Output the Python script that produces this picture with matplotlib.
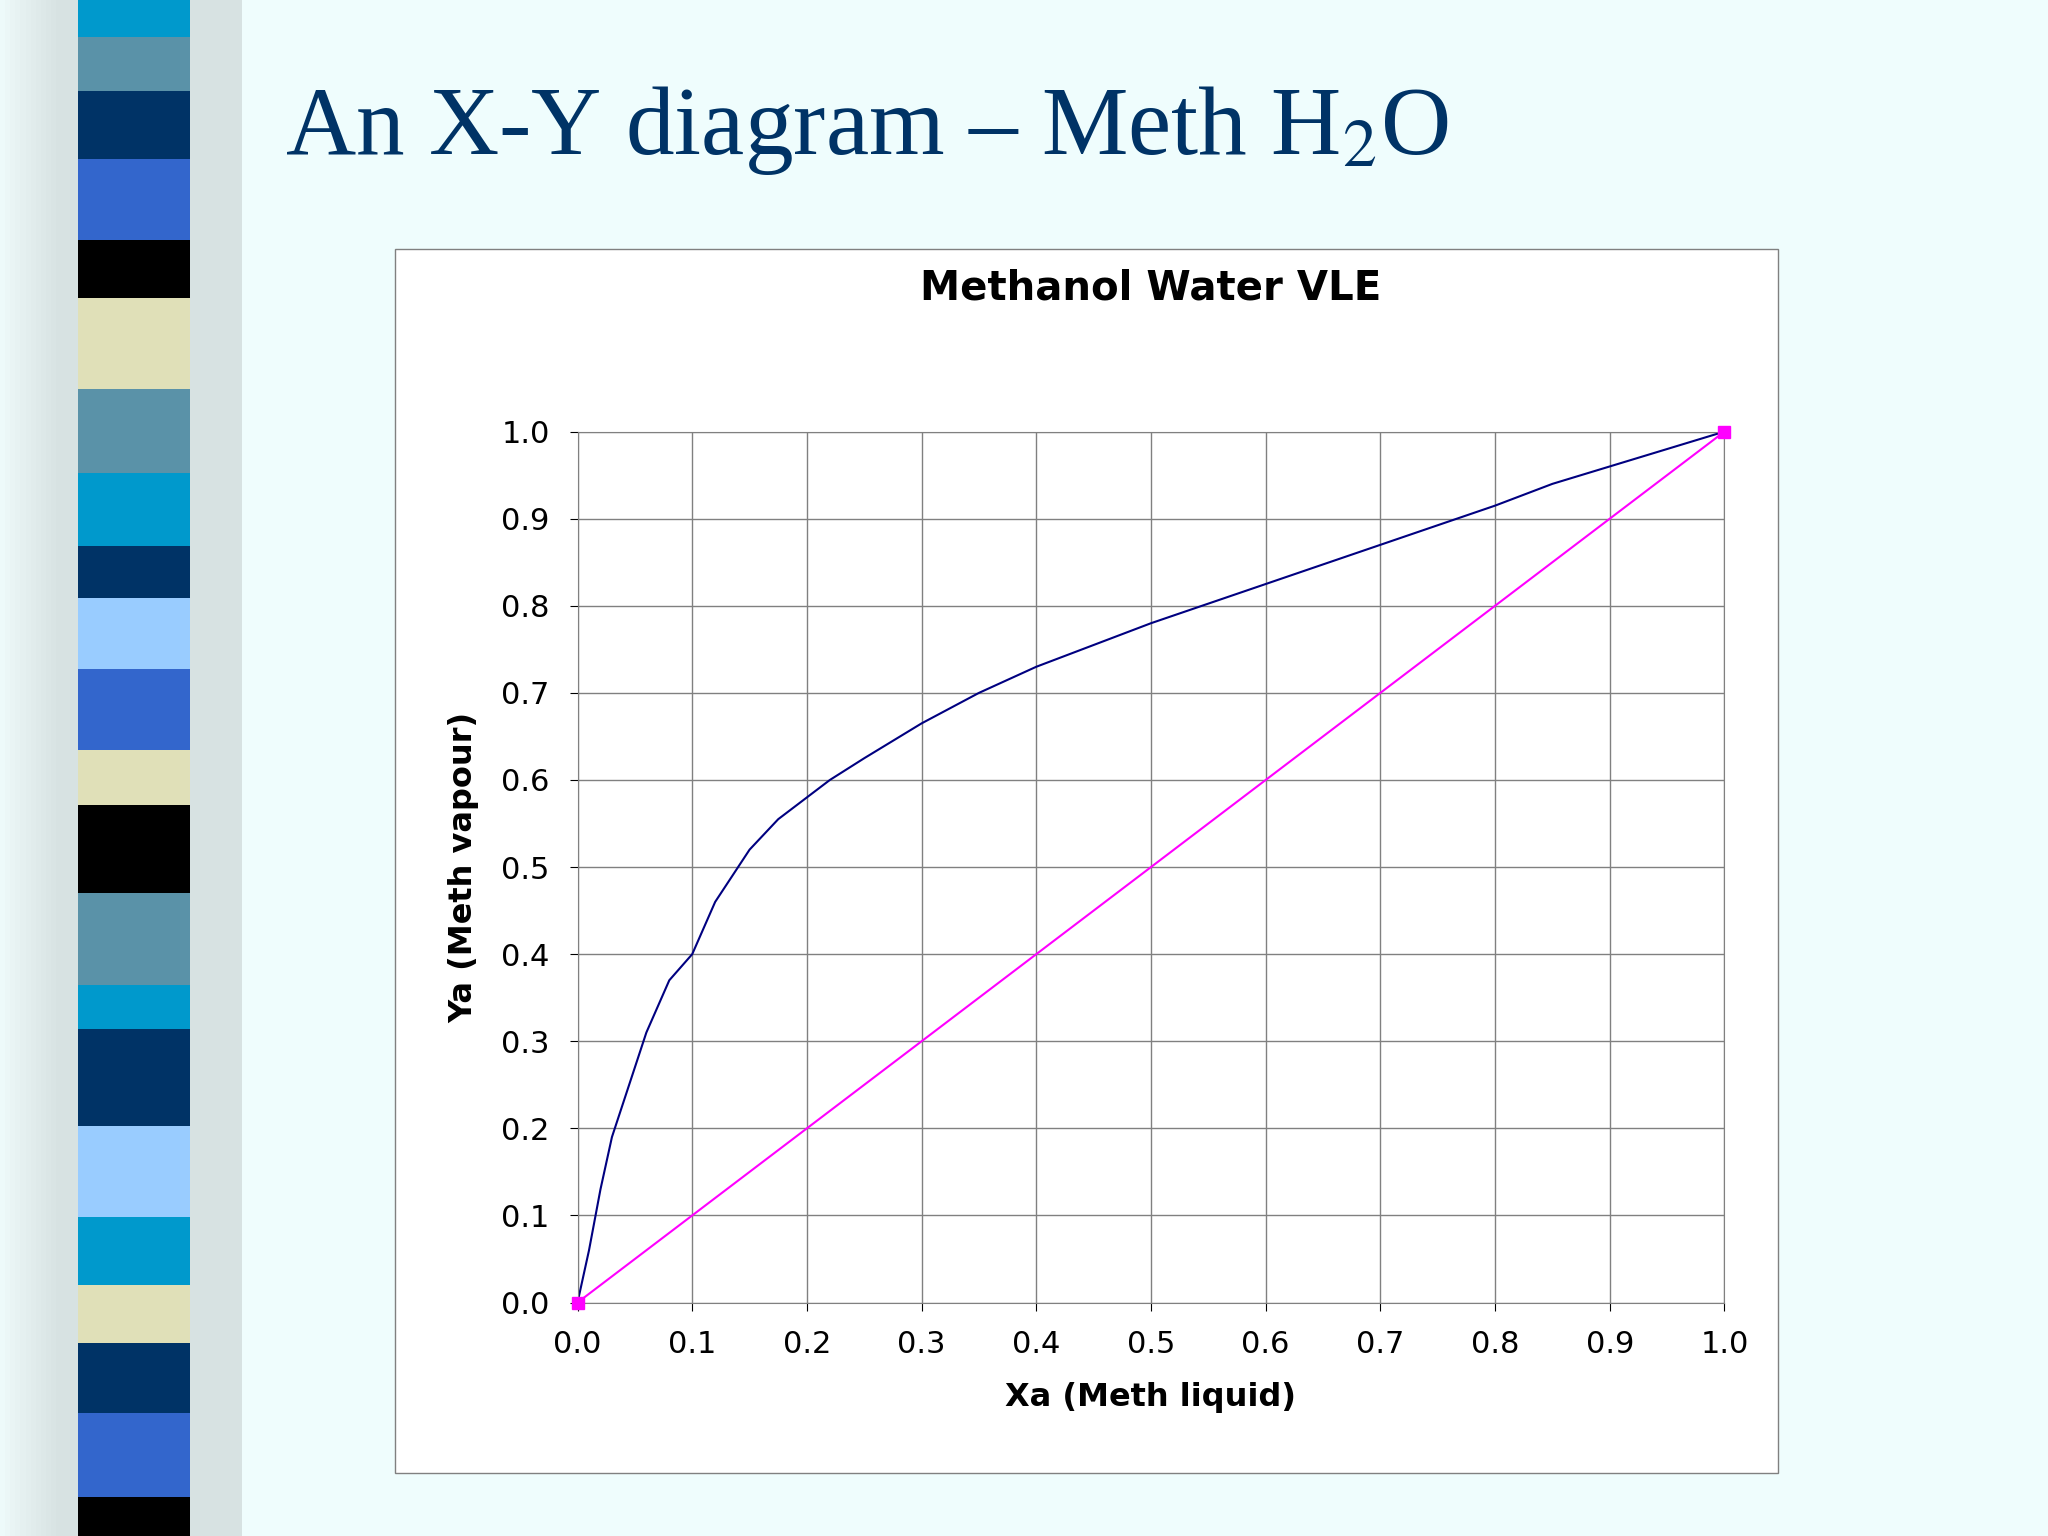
import matplotlib.pyplot as plt
from matplotlib.patches import Rectangle

xa = [0.0, 0.01, 0.02, 0.03, 0.04, 0.05, 0.06, 0.08, 0.10, 0.12, 0.15, 0.175, 0.2, 0.22,
      0.25, 0.3, 0.35, 0.4, 0.45, 0.5, 0.6, 0.7, 0.8, 0.85, 0.9, 0.95, 1.0]
ya = [0.0, 0.06, 0.13, 0.19, 0.23, 0.27, 0.31, 0.37, 0.40, 0.46, 0.52, 0.555, 0.58, 0.60,
      0.625, 0.665, 0.70, 0.73, 0.755, 0.78, 0.825, 0.87, 0.915, 0.94, 0.96, 0.98, 1.0]
diag = [0.0, 1.0]

stripe_colors = ['#0099cc', '#5a92a8', '#003366', '#3366cc', '#000000', '#e0e0b8', '#5a92a8',
                 '#0099cc', '#003366', '#99ccff', '#3366cc', '#e0e0b8', '#000000', '#5a92a8',
                 '#0099cc', '#003366', '#99ccff', '#0099cc', '#e0e0b8', '#003366', '#3366cc', '#000000']
stripe_h = [28, 42, 52, 62, 44, 70, 64, 56, 40, 54, 62, 42, 68, 70, 34, 74, 70, 52, 44, 54, 64, 46]

plt.rcParams['mathtext.fontset'] = 'stix'

fig = plt.figure(figsize=(20.48, 15.36), dpi=100)
fig.patch.set_facecolor('#effdfd')

# decorative stripe band with soft grey shadow
for i in range(12):
    fig.add_artist(Rectangle((0.0 + i * 0.0025, 0), 0.118 - i * 0.005 + 0.0025 * i, 1,
                             transform=fig.transFigure, color='#909090', alpha=0.02, lw=0,
                             zorder=-3))
y = 1176
for c, h in zip(stripe_colors, stripe_h):
    y -= h
    fig.add_artist(Rectangle((0.038, y / 1176), 0.055, h / 1176,
                             transform=fig.transFigure, color=c, lw=0, zorder=-2))

fig.text(0.139, 0.915, 'An X-Y diagram – Meth H$_2$O', fontsize=70, color='#003366',
         family='Liberation Serif', va='center')

fig.add_artist(Rectangle((0.193, 0.041), 0.675, 0.797, transform=fig.transFigure,
                         facecolor='white', edgecolor='#808080', lw=1, zorder=-1))

ax = fig.add_axes([0.282, 0.152, 0.56, 0.567])
ax.set_facecolor('white')
ax.plot(xa, ya, color='#000080', lw=1.5)
ax.plot(diag, diag, color='#ff00ff', lw=1.5, marker='s', ms=8, clip_on=False, zorder=5)
ax.set_xlim(0, 1)
ax.set_ylim(0, 1)
ticks = [i / 10 for i in range(11)]
ax.set_xticks(ticks)
ax.set_yticks(ticks)
ax.set_xticklabels([f'{t:.1f}' for t in ticks], fontsize=22)
ax.set_yticklabels([f'{t:.1f}' for t in ticks], fontsize=22)
ax.tick_params(length=6, pad=14)
ax.grid(True, color='#808080', lw=1)
ax.set_axisbelow(True)
for s in ax.spines.values():
    s.set_color('#808080')
ax.set_xlabel('Xa (Meth liquid)', fontsize=23, fontweight='bold', labelpad=16)
ax.set_ylabel('Ya (Meth vapour)', fontsize=23, fontweight='bold', labelpad=16)
ax.set_title('Methanol Water VLE', fontsize=29, fontweight='bold', pad=95)

fig.savefig('out.png', dpi=100, facecolor=fig.get_facecolor())
